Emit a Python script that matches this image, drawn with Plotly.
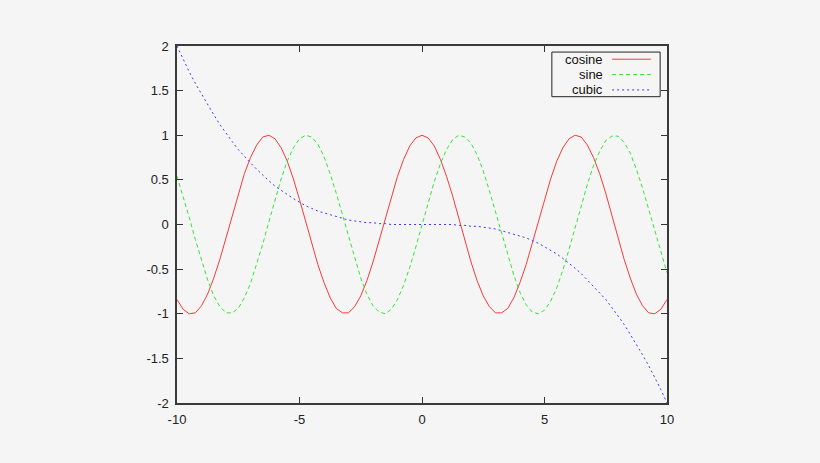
import plotly.graph_objects as go

x_vals = [-10, -9.75, -9.5, -9.25, -9, -8.75, -8.5, -8.25, -8, -7.75, -7.5, -7.25, -7, -6.75, -6.5, -6.25,
          -6, -5.75, -5.5, -5.25, -5, -4.75, -4.5, -4.25, -4, -3.75, -3.5, -3.25, -3, -2.75, -2.5, -2.25,
          -2, -1.75, -1.5, -1.25, -1, -0.75, -0.5, -0.25, 0, 0.25, 0.5, 0.75, 1, 1.25, 1.5, 1.75,
          2, 2.25, 2.5, 2.75, 3, 3.25, 3.5, 3.75, 4, 4.25, 4.5, 4.75, 5, 5.25, 5.5, 5.75,
          6, 6.25, 6.5, 6.75, 7, 7.25, 7.5, 7.75, 8, 8.25, 8.5, 8.75, 9, 9.25, 9.5, 9.75, 10]

cosine = [-0.84, -0.95, -1.00, -0.99, -0.91, -0.78, -0.60, -0.39, -0.15, 0.10, 0.35, 0.57, 0.75, 0.89, 0.98, 1.00,
          0.96, 0.86, 0.71, 0.51, 0.28, 0.04, -0.21, -0.45, -0.65, -0.82, -0.94, -0.99, -0.99, -0.92, -0.80, -0.63,
          -0.42, -0.18, 0.07, 0.32, 0.54, 0.73, 0.88, 0.97, 1.00, 0.97, 0.88, 0.73, 0.54, 0.32, 0.07, -0.18,
          -0.42, -0.63, -0.80, -0.92, -0.99, -0.99, -0.94, -0.82, -0.65, -0.45, -0.21, 0.04, 0.28, 0.51, 0.71, 0.86,
          0.96, 1.00, 0.98, 0.89, 0.75, 0.57, 0.35, 0.10, -0.15, -0.39, -0.60, -0.78, -0.91, -0.99, -1.00, -0.95, -0.84]

sine = [0.54, 0.32, 0.08, -0.17, -0.41, -0.62, -0.80, -0.92, -0.99, -0.99, -0.94, -0.82, -0.66, -0.45, -0.22, 0.03,
        0.28, 0.51, 0.71, 0.86, 0.96, 1.00, 0.98, 0.90, 0.76, 0.57, 0.35, 0.11, -0.14, -0.38, -0.60, -0.78,
        -0.91, -0.98, -1.00, -0.95, -0.84, -0.68, -0.48, -0.25, 0.00, 0.25, 0.48, 0.68, 0.84, 0.95, 1.00, 0.98,
        0.91, 0.78, 0.60, 0.38, 0.14, -0.11, -0.35, -0.57, -0.76, -0.90, -0.98, -1.00, -0.96, -0.86, -0.71, -0.51,
        -0.28, -0.03, 0.22, 0.45, 0.66, 0.82, 0.94, 0.99, 0.99, 0.92, 0.80, 0.62, 0.41, 0.17, -0.08, -0.32, -0.54]

cubic = [2.00, 1.85, 1.71, 1.58, 1.46, 1.34, 1.23, 1.12, 1.02, 0.93, 0.84, 0.76, 0.69, 0.62, 0.55, 0.49,
         0.43, 0.38, 0.33, 0.29, 0.25, 0.21, 0.18, 0.15, 0.13, 0.11, 0.09, 0.07, 0.05, 0.04, 0.03, 0.02,
         0.02, 0.01, 0.01, 0.00, 0.00, 0.00, 0.00, 0.00, 0.00, 0.00, 0.00, 0.00, 0.00, 0.00, -0.01, -0.01,
         -0.02, -0.02, -0.03, -0.04, -0.05, -0.07, -0.09, -0.11, -0.13, -0.15, -0.18, -0.21, -0.25, -0.29, -0.33, -0.38,
         -0.43, -0.49, -0.55, -0.62, -0.69, -0.76, -0.84, -0.93, -1.02, -1.12, -1.23, -1.34, -1.46, -1.58, -1.71, -1.85, -2.00]

x_ticks = [-10, -5, 0, 5, 10]
y_ticks = [-2, -1.5, -1, -0.5, 0, 0.5, 1, 1.5, 2]
x_labels = ["-10", "-5", "0", "5", "10"]
y_labels = ["-2", "-1.5", "-1", "-0.5", "0", "0.5", "1", "1.5", "2"]

series_names = ["cosine", "sine", "cubic"]
series_colors = ["#f53a3a", "#33e633", "#3a3aff"]
series_dash = ["solid", "4px,3px", "2px,3px"]
series_data = [cosine, sine, cubic]

fig = go.Figure()
for name, ys, col, dash in zip(series_names, series_data, series_colors, series_dash):
    fig.add_trace(go.Scatter(x=x_vals, y=ys, mode="lines", name=name,
                             line=dict(color=col, width=1, dash=dash),
                             showlegend=False, hoverinfo="skip"))

bg = "#f5f5f5"
fig.update_layout(
    width=820, height=463,
    margin=dict(l=177, r=153, t=46, b=60),
    paper_bgcolor=bg, plot_bgcolor=bg,
    font=dict(family="Liberation Sans, Arial, sans-serif", size=13, color="#222"),
)
axis_common = dict(showgrid=False, zeroline=False, showline=True, linecolor="#3a3a3a", linewidth=1.6,
                   mirror="allticks", ticks="inside", ticklen=6, tickcolor="#333", tickwidth=1)
fig.update_xaxes(range=[-10, 10], tickvals=x_ticks, ticktext=x_labels, ticklabelstandoff=4, **axis_common)
fig.update_yaxes(range=[-2, 2], tickvals=y_ticks, ticktext=y_labels, ticklabelstandoff=4, **axis_common)

# custom legend (gnuplot style: text left, sample right)
fig.add_shape(type="rect", xref="paper", yref="paper", x0=0.765, x1=0.986, y0=0.858, y1=0.983,
              line=dict(color="#222", width=1), fillcolor=bg)
row_y = [0.963, 0.920, 0.877]
for name, col, dash, yy in zip(series_names, series_colors, series_dash, row_y):
    fig.add_annotation(xref="paper", yref="paper", x=0.867, y=yy, text=name, showarrow=False,
                       xanchor="right", yanchor="middle", xshift=2, borderpad=0, height=13,
                       font=dict(size=13, color="#111"))
    fig.add_shape(type="line", xref="paper", yref="paper", x0=0.888, x1=0.967, y0=yy, y1=yy,
                  line=dict(color=col, width=1, dash=dash))

fig.write_html("out.html", config={"displayModeBar": False, "staticPlot": True},
               post_script="document.body.style.margin='0';document.body.style.background='#f5f5f5';")
